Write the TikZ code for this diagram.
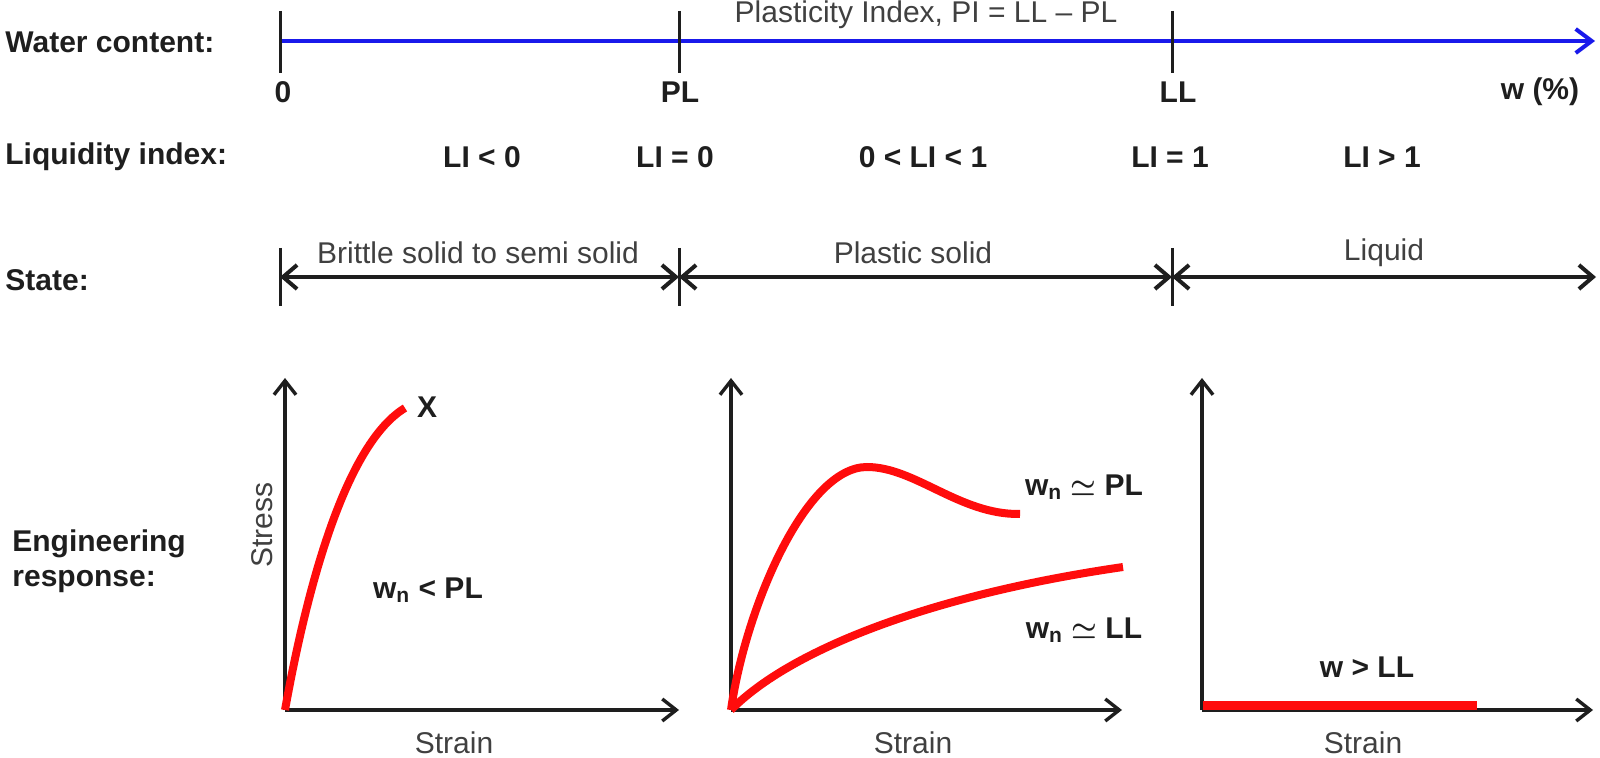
\documentclass[tikz,border=0pt]{standalone}
\usepackage{fontspec}
\setmainfont{Liberation Sans}
\usetikzlibrary{arrows.meta,positioning}
\definecolor{axisblue}{RGB}{25,25,235}
\definecolor{curvered}{RGB}{255,12,12}
\definecolor{ink}{RGB}{30,30,30}

\begin{document}
\begin{tikzpicture}[
  x=0.5pt,y=-0.5pt,
  font=\fontsize{15}{17.5}\selectfont,
  lbl/.style={anchor=west,font=\fontsize{15}{17.5}\selectfont\bfseries,text=ink,inner sep=0pt},
  val/.style={font=\fontsize{15}{17.5}\selectfont\bfseries,text=ink,inner sep=0pt},
  txt/.style={text=ink!85,inner sep=0pt},
  tick/.style={line width=1.5pt,ink},
  arr/.style={line width=2pt,ink,{Straight Barb[length=7pt,width=12pt]}-{Straight Barb[length=7pt,width=12pt]}},
  axis/.style={line width=1.7pt,ink,-{Straight Barb[length=7pt,width=11pt]}},
  curve/.style={line width=4pt,curvered}
]
\useasboundingbox (0,0) rectangle (1600,758);

% row labels
\node[lbl] (wc) at (5,42) {Water content:};
\node[lbl] (li) at (5,157) {Liquidity index:};
\node[lbl] (st) at (5,280) {State:};
\node[lbl,align=left] (er) at (12,561) {Engineering\\response:};

% water content axis
\coordinate (w0) at (280,41);
\coordinate (wpl) at (679,41);
\coordinate (wll) at (1172,41);
\coordinate (wend) at (1595,41);
\draw[line width=2pt,axisblue,-{Straight Barb[length=8pt,width=12pt]}] (w0) -- (wend);
\draw[tick] (w0) ++(0,-30) -- ++(0,62);
\draw[tick] (wpl) ++(0,-30) -- ++(0,62);
\draw[tick] (wll) ++(0,-30) -- ++(0,62);
\node[txt] (pi) at (926,15) {Plasticity Index, PI = LL -- PL};
\node[val] (l0) at (283,92) {0};
\node[val] (lpl) at (680,92) {PL};
\node[val] (lll) at (1178,92) {LL};
\node[val] (lw) at (1540,92) {w (\%)};

% liquidity index
\node[val] (li1) at (482,157) {LI < 0};
\node[val] (li2) at (675,157) {LI = 0};
\node[val] (li3) at (923,157) {0 < LI < 1};
\node[val] (li4) at (1170,157) {LI = 1};
\node[val] (li5) at (1382,157) {LI > 1};

% states
\coordinate (s0) at (280,277);
\coordinate (s1) at (679,277);
\coordinate (s2) at (1172,277);
\coordinate (s3) at (1596,277);
\draw[tick] (s0) ++(0,-29) -- ++(0,58);
\draw[tick] (s1) ++(0,-29) -- ++(0,58);
\draw[tick] (s2) ++(0,-29) -- ++(0,58);
\draw[arr] (s0) -- (s1);
\draw[arr] (s1) -- (s2);
\draw[arr] (s2) -- (s3);
\node[txt] (brit) at (478,253) {Brittle solid to semi solid};
\node[txt] (plas) at (913,253) {Plastic solid};
\node[txt] (liq) at (1384,253) {Liquid};

% response graphs
\coordinate (o1) at (285,710);
\coordinate (o2) at (731,710);
\coordinate (o3) at (1202,710);
\draw[axis] (o1) -- (285,378);
\draw[axis] (o1) -- (679,710);
\draw[axis] (o2) -- (731,378);
\draw[axis] (o2) -- (1122,710);
\draw[axis] (o3) -- (1202,378);
\draw[axis] (o3) -- (1593,710);

\node[txt,rotate=90] (stress) at (262,525) {Stress};
\node[txt] (sn1) at (454,743) {Strain};
\node[txt] (sn2) at (913,743) {Strain};
\node[txt] (sn3) at (1363,743) {Strain};

\coordinate (c1) at (405,408);
\draw[curve] (o1) .. controls (312,560) and (352,440) .. (c1);
\node[val] (x) at (427,407) {X};
\node[val] (r1) at (428,590) {w\textsubscript{n} < PL};

\coordinate (pk) at (867,467);
\coordinate (c2) at (1020,514);
\coordinate (c3) at (1123,567);
\draw[curve] (o2) .. controls (745,610) and (805,467) .. (pk)
  .. controls (915,467) and (960,515) .. (c2);
\draw[curve] (o2) .. controls (790,650) and (930,595) .. (c3);
\node[val] (r2) at (1084,487) {w\textsubscript{n} {\boldmath$\simeq$} PL};
\node[val] (r3) at (1084,630) {w\textsubscript{n} {\boldmath$\simeq$} LL};

\coordinate (b0) at (1203,705);
\coordinate (b1) at (1477,705);
\draw[curve,line width=4.5pt] (b0) -- (b1);
\node[val] (r4) at (1367,667) {w > LL};
\end{tikzpicture}
\end{document}
